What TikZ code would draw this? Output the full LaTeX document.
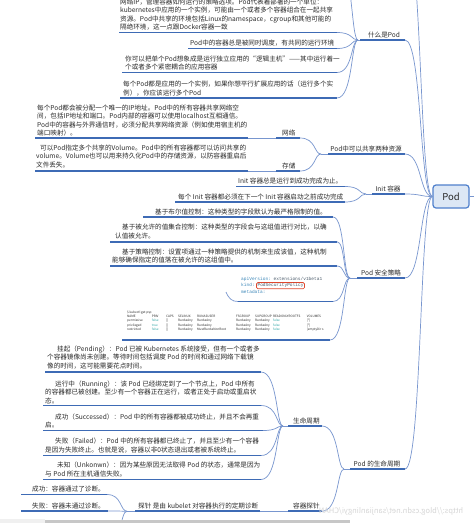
\documentclass[tikz,border=0pt]{standalone}
\usepackage{fontspec}
\usepackage{graphicx}
\setmainfont{Noto Sans CJK SC}
\setmonofont{Liberation Mono}
\usetikzlibrary{calc}
\definecolor{ulc}{HTML}{3E6BB5}
\definecolor{brc}{HTML}{7896CF}
\definecolor{txc}{HTML}{2A2A2A}
\definecolor{podfill}{HTML}{DCE7F5}
\definecolor{podline}{HTML}{4F80CC}
\definecolor{keyc}{HTML}{3A86B8}
\definecolor{codegray}{HTML}{4A5A6A}
\definecolor{redbox}{HTML}{E0482E}
\definecolor{tealc}{HTML}{2FA5A5}
\newcommand\lnk[2]{\draw[br] (#1) .. controls ($(#2|-#1)+(-5,0)$) and ($(#2)+(-7,0)$) .. (#2);}
\newcommand\plnk[1]{\draw[br] (pod.west) .. controls ($(pod.west)+(-13,0)$) and ($(#1)+(17,0)$) .. (#1);}
\newcommand\blk[1]{\begin{tabular}[t]{@{}l@{}}#1\end{tabular}}
\begin{document}
\begin{tikzpicture}[x=1pt,y=-1pt,
  ul/.style={draw=ulc, line width=1.6pt},
  br/.style={draw=brc, line width=0.7pt},
  txt/.style={inner sep=0pt, anchor=base west, text=txc, font=\fontsize{6.6}{8.4}\selectfont},
  lbl/.style={inner sep=0pt, anchor=base, text=txc, font=\fontsize{6.6}{8.4}\selectfont},
  codetxt/.style={inner sep=0pt, anchor=base west, text=codegray, font=\fontsize{4.5}{6}\ttfamily},
  tbl/.style={inner sep=0pt, anchor=base west, text=txc, font=\fontsize{3.1}{4.2}\selectfont},
  podbox/.style={draw=podline, fill=podfill, rounded corners=3pt, line width=1.2pt,
    minimum width=36pt, minimum height=23pt, inner sep=0pt, text=txc, font=\fontsize{9.5}{10}\selectfont}
]
\useasboundingbox (0,0) rectangle (474,523);
\fill[white] (0,0) rectangle (474,523);
\clip (0,0) rectangle (474,523);

% ---------- root ----------
\node[podbox] (pod) at (451,196.5) {Pod};
\coordinate (podr) at (480,196.5);
\draw[br] (pod.east) -- (podr);
\coordinate (offa) at (405,-70);
\plnk{offa}

% ---------- branch 1 : 什么是Pod ----------
\coordinate (j1) at (358,40);
\coordinate (b1s) at (360,40);
\coordinate (b1e) at (405,40);
\draw[br] (j1) -- (b1s);
\draw[ul] (b1s) -- (b1e);
\node[lbl] (b1) at (384,37.3) {什么是Pod};
\plnk{b1e}

\coordinate (off1) at (337,-40);
\lnk{off1}{j1}

\node[txt] (l1a) at (120,4.2) {\blk{网络IP，管理容器如何运行的策略选项。Pod代表着部署的一个单位：\\
kubernetes中应用的一个实例，可能由一个或者多个容器组合在一起共享\\
资源。Pod中共享的环境包括Linux的namespace，cgroup和其他可能的\\
隔绝环境，这一点跟Docker容器一致}};
\coordinate (l1as) at (119,32.5); \coordinate (l1ae) at (337,32.5);
\draw[ul] (l1as) -- (l1ae); \lnk{l1ae}{j1}

\node[txt] (l1b) at (190,45.5) {Pod中的容器总是被同时调度，有共同的运行环境};
\coordinate (l1bs) at (188,48.5); \coordinate (l1be) at (337,48.5);
\draw[ul] (l1bs) -- (l1be); \lnk{l1be}{j1}

\node[txt] (l1c) at (125,61.2) {\blk{你可以把单个Pod想象成是运行独立应用的“逻辑主机”——其中运行着一\\
个或者多个紧密耦合的应用容器}};
\coordinate (l1cs) at (122,72.5); \coordinate (l1ce) at (337,72.5);
\draw[ul] (l1cs) -- (l1ce); \lnk{l1ce}{j1}

\node[txt] (l1d) at (123,86.6) {\blk{每个Pod都是应用的一个实例，如果你想平行扩展应用的话（运行多个实\\
例），你应该运行多个Pod}};
\coordinate (l1ds) at (120,98) ; \coordinate (l1de) at (337,98);
\draw[ul] (l1ds) -- (l1de); \lnk{l1de}{j1}

% ---------- branch 2 : 共享资源 ----------
\coordinate (j2) at (321,154);
\coordinate (b2s) at (328,154);
\coordinate (b2e) at (405,154);
\draw[br] (j2) -- (b2s);
\draw[ul] (b2s) -- (b2e);
\node[lbl] (b2) at (366,151.3) {Pod中可以共享两种资源};
\plnk{b2e}

\node[txt] (net) at (282,135.3) {网络};
\coordinate (nets) at (276,138); \coordinate (nete) at (300,138);
\draw[ul] (nets) -- (nete); \lnk{nete}{j2}
\node[txt] (sto) at (282,168.3) {存储};
\coordinate (stos) at (276,171); \coordinate (stoe) at (300,171);
\draw[ul] (stos) -- (stoe); \lnk{stoe}{j2}

\node[txt] (l2a) at (37,110.3) {\blk{每个Pod都会被分配一个唯一的IP地址。Pod中的所有容器共享网络空\\
间，包括IP地址和端口。Pod内部的容器可以使用localhost互相通信。\\
Pod中的容器与外界通信时，必须分配共享网络资源（例如使用宿主机的\\
端口映射）。}};
\coordinate (l2as) at (35,138); \coordinate (l2ae) at (248,138);
\draw[ul] (l2as) -- (l2ae); \draw[br] (l2ae) -- (nets);

\node[txt] (l2b) at (36,150.4) {\blk{\hspace*{4pt}可以Pod指定多个共享的Volume。Pod中的所有容器都可以访问共享的\\
volume。Volume也可以用来持久化Pod中的存储资源，以防容器重启后\\
文件丢失。}};
\coordinate (l2bs) at (35,171); \coordinate (l2be) at (248,171);
\draw[ul] (l2bs) -- (l2be); \draw[br] (l2be) -- (stos);

% ---------- branch 3 : Init 容器 ----------
\coordinate (j3) at (366,194);
\coordinate (b3s) at (372,194);
\coordinate (b3e) at (405,194);
\draw[br] (j3) -- (b3s);
\draw[ul] (b3s) -- (b3e);
\node[lbl] (b3) at (388,191.3) {Init 容器};
\plnk{b3e}

\node[txt] (l3a) at (238,183.6) {Init 容器总是运行到成功完成为止。};
\coordinate (l3as) at (236,186.5); \coordinate (l3ae) at (345,186.5);
\draw[ul] (l3as) -- (l3ae); \lnk{l3ae}{j3}

\node[txt] (l3b) at (178,199) {每个 Init 容器都必须在下一个 Init 容器启动之前成功完成};
\coordinate (l3bs) at (175,202); \coordinate (l3be) at (345,202);
\draw[ul] (l3bs) -- (l3be); \lnk{l3be}{j3}

% ---------- branch 4 : Pod 安全策略 ----------
\coordinate (j4) at (350,278);
\coordinate (b4s) at (357,278);
\coordinate (b4e) at (405,278);
\draw[br] (j4) -- (b4s);
\draw[ul] (b4s) -- (b4e);
\node[lbl] (b4) at (381,275.3) {Pod 安全策略};
\plnk{b4e}

\node[txt] (l4a) at (155,214.3) {基于布尔值控制：这种类型的字段默认为最严格限制的值。};
\coordinate (l4as) at (143,217); \coordinate (l4ae) at (333,217);
\draw[ul] (l4as) -- (l4ae); \lnk{l4ae}{j4}

\node[txt] (l4b) at (115,229.6) {\blk{\hspace*{7pt}基于被允许的值集合控制：这种类型的字段会与这组值进行对比，以确\\
认值被允许。}};
\coordinate (l4bs) at (110,241.7); \coordinate (l4be) at (337,241.7);
\draw[ul] (l4bs) -- (l4be); \lnk{l4be}{j4}

\node[txt] (l4c) at (112,254.5) {\blk{\hspace*{10pt}基于策略控制：设置项通过一种策略提供的机制来生成该值，这种机制\\
能够确保指定的值落在被允许的这组值中。}};
\coordinate (l4cs) at (110,266); \coordinate (l4ce) at (337,266);
\draw[ul] (l4cs) -- (l4ce); \lnk{l4ce}{j4}

% code image
\node[codetxt, text=keyc] (c1) at (241,280.5) {apiVersion: \textcolor{codegray}{extensions/v1beta1}};
\node[codetxt, text=keyc] (c2) at (241,286.8) {kind:};
\node[codetxt, draw=redbox, line width=0.7pt, rounded corners=1.2pt, inner xsep=1pt, inner ysep=1pt] (psp) at (256.2,286.8) {PodSecurityPolicy};
\node[codetxt, text=keyc] (c3) at (241,293.2) {metadata:};
\coordinate (l4dc) at (226,292);
\coordinate (l4ds) at (238,301.5); \coordinate (l4de) at (333,301.5);
\draw[br] (l4dc) .. controls (229,299) and (232,301.5) .. (l4ds);
\draw[ul] (l4ds) -- (l4de); \lnk{l4de}{j4}

% table image
\node[tbl] (t0) at (127,313.4) {\$ kubectl get psp};
\node[tbl] (t1) at (127,317.6) {\blk{NAME\\permissive\\privileged\\restricted}};
\node[tbl] (t2) at (151.7,317.6) {\blk{PRIV\\\textcolor{tealc}{false}\\\textcolor{tealc}{true}\\\textcolor{tealc}{false}}};
\node[tbl] (t3) at (166,317.6) {\blk{CAPS\\{[]}\\{[]}\\{[]}}};
\node[tbl] (t4) at (178,317.6) {\blk{SELINUX\\RunAsAny\\RunAsAny\\RunAsAny}};
\node[tbl] (t5) at (197,317.6) {\blk{RUNASUSER\\RunAsAny\\RunAsAny\\MustRunAsNonRoot}};
\node[tbl] (t6) at (236,317.6) {\blk{FSGROUP\\RunAsAny\\RunAsAny\\RunAsAny}};
\node[tbl] (t7) at (255,317.6) {\blk{SUPGROUP\\RunAsAny\\RunAsAny\\RunAsAny}};
\node[tbl] (t8) at (273,317.6) {\blk{READONLYROOTFS\\\textcolor{tealc}{false}\\\textcolor{tealc}{false}\\\textcolor{tealc}{false}}};
\node[tbl] (t9) at (306.7,317.6) {\blk{VOLUMES\\{[*]}\\{[*]}\\{[emptyDir s}}};
\coordinate (l4es) at (122,340); \coordinate (l4ee) at (330,340);
\draw[ul] (l4es) -- (l4ee); \lnk{l4ee}{j4}

% ---------- branch 5 : Pod 的生命周期 ----------
\coordinate (j5) at (344,469);
\coordinate (b5s) at (350,469);
\coordinate (b5e) at (405,469);
\draw[br] (j5) -- (b5s);
\draw[ul] (b5s) -- (b5e);
\node[lbl] (b5) at (377,466.3) {Pod 的生命周期};
\plnk{b5e}

\node[txt] (lc) at (293,423.5) {生命周期};
\coordinate (j6) at (283,426);
\coordinate (lcs) at (288,426); \coordinate (lce) at (322,426);
\draw[br] (j6) -- (lcs);
\draw[ul] (lcs) -- (lce); \lnk{lce}{j5}

\node[txt] (pr) at (293,508.5) {容器探针};
\coordinate (prs) at (288,511.2); \coordinate (pre) at (322,511.2);
\draw[ul] (prs) -- (pre); \lnk{pre}{j5}

\node[txt] (s1) at (47,351.2) {\blk{\hspace*{10pt}挂起（Pending）：Pod 已被 Kubernetes 系统接受，但有一个或者多\\
个容器镜像尚未创建。等待时间包括调度 Pod 的时间和通过网络下载镜\\
像的时间，这可能需要花点时间。}};
\coordinate (s1s) at (45,372); \coordinate (s1e) at (261,372);
\draw[ul] (s1s) -- (s1e); \lnk{s1e}{j6}

\node[txt] (s2) at (45,386.2) {\blk{\hspace*{10pt}运行中（Running）：该 Pod 已经绑定到了一个节点上，Pod 中所有\\
的容器都已被创建。至少有一个容器正在运行，或者正处于启动或重启状\\
态。}};
\coordinate (s2s) at (43,405.5); \coordinate (s2e) at (261,405.5);
\draw[ul] (s2s) -- (s2e); \lnk{s2e}{j6}

\node[txt] (s3) at (45,419.2) {\blk{\hspace*{10pt}成功（Successed）：Pod 中的所有容器都被成功终止，并且不会再重\\
启。}};
\coordinate (s3s) at (43,430.5); \coordinate (s3e) at (263,430.5);
\draw[ul] (s3s) -- (s3e); \lnk{s3e}{j6}

\node[txt] (s4) at (45,443.8) {\blk{\hspace*{10pt}失败（Failed）：Pod 中的所有容器都已终止了，并且至少有一个容器\\
是因为失败终止。也就是说，容器以非0状态退出或者被系统终止。}};
\coordinate (s4s) at (43,455.5); \coordinate (s4e) at (261,455.5);
\draw[ul] (s4s) -- (s4e); \lnk{s4e}{j6}

\node[txt] (s5) at (45,467.6) {\blk{\hspace*{12pt}未知（Unkonwn）：因为某些原因无法取得 Pod 的状态，通常是因为\\
与 Pod 所在主机通信失败。}};
\coordinate (s5s) at (43,479.5); \coordinate (s5e) at (261,479.5);
\draw[ul] (s5s) -- (s5e); \lnk{s5e}{j6}

% probe
\node[txt] (p0) at (138,508.5) {探针 是由 kubelet 对容器执行的定期诊断};
\coordinate (j7) at (127,511.2);
\coordinate (p0s) at (135,511.2); \coordinate (p0e) at (260,511.2);
\draw[br] (j7) -- (p0s);
\draw[ul] (p0s) -- (p0e); \draw[br] (p0e) -- (prs);

\node[txt] (p1) at (32,491.8) {成功：容器通过了诊断。};
\coordinate (p1s) at (21,494.5); \coordinate (p1e) at (107,494.5);
\draw[ul] (p1s) -- (p1e); \lnk{p1e}{j7}

\node[txt] (p2) at (32,508) {失败：容器未通过诊断。};
\coordinate (p2s) at (21,511); \coordinate (p2e) at (108,511);
\draw[ul] (p2s) -- (p2e); \lnk{p2e}{j7}

\coordinate (off3) at (108,545);
\lnk{off3}{j7}

% watermark and scroll bar
\node[inner sep=0pt, anchor=base, text=black!16, font=\fontsize{7.5}{8}\selectfont] (wm) at (391,513) {\reflectbox{https://blog.csdn.net/sanjianlingyi/CHAN}};
\fill[black!6] (0,518.5) rectangle (45,523);
\fill[black!22] (45,519.5) rectangle (350,523);
\end{tikzpicture}
\end{document}
